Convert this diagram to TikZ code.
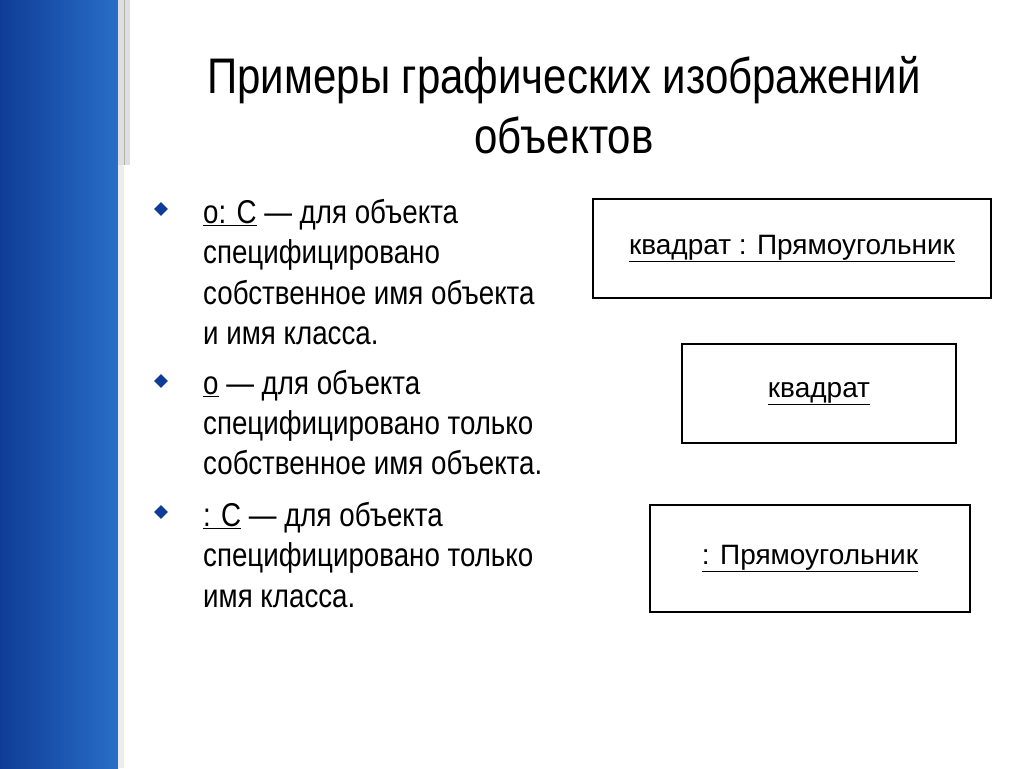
\documentclass[tikz,border=0pt]{standalone}
\usepackage{fontspec}
\setmainfont{Liberation Sans}[FakeStretch=0.84]
\newfontfamily\boxfont{Liberation Sans}
\usetikzlibrary{shapes.geometric}
\definecolor{bandblue}{RGB}{40,110,200}
\definecolor{banddark}{RGB}{15,60,150}
\begin{document}
\begin{tikzpicture}[x=1pt,y=-1pt,
  body/.style={anchor=base west,inner sep=0,font=\fontsize{33}{33}\selectfont},
  obj/.style={draw,line width=1.2pt,minimum width=#1,minimum height=99,font=\boxfont\fontsize{28}{28}\selectfont},
  bul/.style={diamond,fill=banddark,inner sep=0,minimum size=14}]
\useasboundingbox (0,0) rectangle (1024,768);
\shade[left color=banddark,right color=bandblue] (0,0) rectangle (118,768);
\fill[gray!25] (118,0) rectangle (130,165);
\fill[gray!15] (118,165) rectangle (124,768);
\draw[gray!60] (124,0) -- (124,165);
\node[font=\fontsize{50}{60}\selectfont,align=center] (title) at (564,105) {Примеры графических изображений\\объектов};
\node[bul] (b1) at (161,209) {};
\node[bul] (b2) at (161,381) {};
\node[bul] (b3) at (161,512) {};
\node[body] (t1a) at (203,223) {\underline{о: С} — для объекта};
\node[body] (t1b) at (203,263) {специфицировано};
\node[body] (t1c) at (203,304) {собственное имя объекта};
\node[body] (t1d) at (203,344) {и имя класса.};
\node[body] (t2a) at (203,394) {\underline{о} — для объекта};
\node[body] (t2b) at (203,434) {специфицировано только};
\node[body] (t2c) at (203,474) {собственное имя объекта.};
\node[body] (t3a) at (203,526) {\underline{: С} — для объекта};
\node[body] (t3b) at (203,566) {специфицировано только};
\node[body] (t3c) at (203,607) {имя класса.};
\node[obj=398] (o1) at (792,248.5) {\underline{квадрат : Прямоугольник}};
\node[obj=274] (o2) at (819,393.5) {\underline{квадрат}};
\node[obj=320,minimum height=107] (o3) at (810,558.5) {\underline{: Прямоугольник}};
\end{tikzpicture}
\end{document}
